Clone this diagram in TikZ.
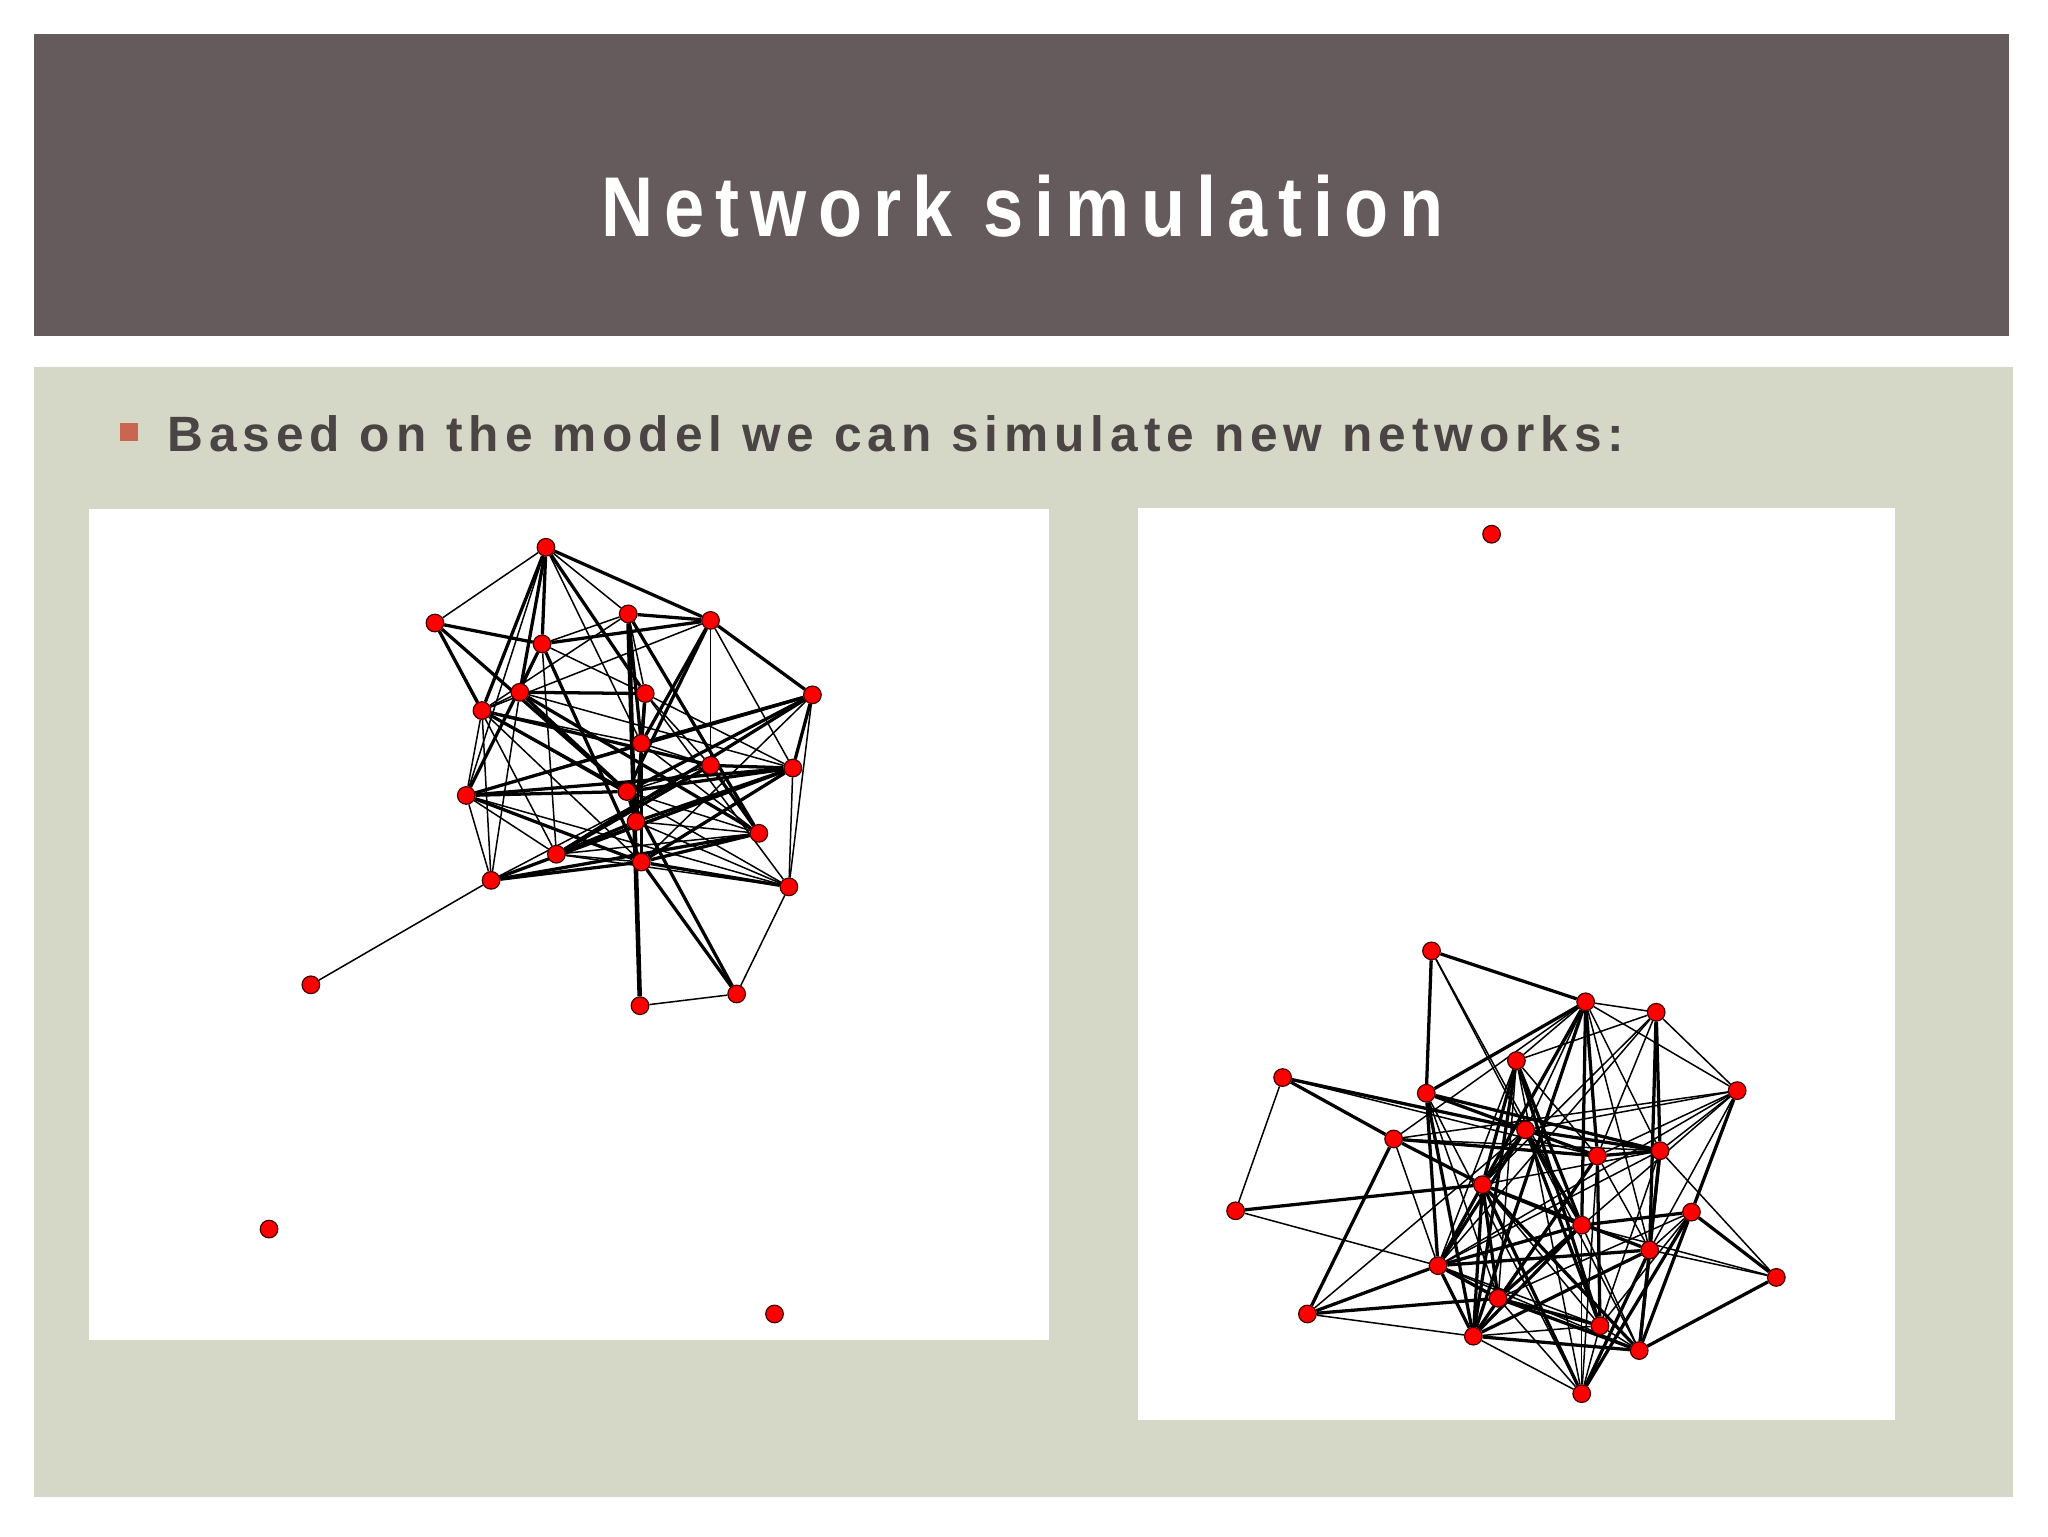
\documentclass[tikz,border=0pt]{standalone}
\usepackage{fontspec}
\setmainfont{Liberation Sans}
\newfontfamily\titlefont[FakeStretch=0.85,LetterSpace=13]{Liberation Sans}
\newfontfamily\bulletfont[FakeStretch=1.0,LetterSpace=12]{Liberation Sans}
\definecolor{hdr}{RGB}{101,90,92}
\definecolor{bodybg}{RGB}{214,216,199}
\definecolor{txt}{RGB}{74,69,68}
\definecolor{bul}{RGB}{200,102,80}
\pgfdeclarelayer{back}
\pgfdeclarelayer{edges}
\pgfsetlayers{back,edges,main}
\tikzset{
  vtx/.style={circle,fill=red,draw=black!75!red,line width=0.9pt,minimum size=13.5pt,inner sep=0pt},
  th/.style={line width=1.15pt,black},
  tk/.style={line width=2.5pt,black},
}
\begin{document}
\begin{tikzpicture}[x=1pt,y=-1pt]
\useasboundingbox (0,0) rectangle (1568,1176);
\begin{pgfonlayer}{back}
\fill[white] (0,0) rectangle (1568,1176);
\fill[hdr] (26,26) rectangle (1538,257);
\fill[bodybg] (26,281) rectangle (1541,1146);
\fill[white] (68,390) rectangle (803,1026);
\fill[white] (871,389) rectangle (1451,1087);
\fill[bul] (92,324) rectangle (106,338);
\end{pgfonlayer}
\node[anchor=base,text=white,font=\titlefont\bfseries\fontsize{65}{70}\selectfont,inner sep=0] (title) at (783,181) {Network simulation};
\node[anchor=base west,text=txt,font=\bulletfont\bfseries\fontsize{38}{44}\selectfont,inner sep=0] (bullet) at (128,346) {Based on the model we can simulate new networks:};
% left network nodes
\foreach \n/\x/\y in {A/418/419,B/333/477,C/481/470,D/544/475,E/415/493,F/398/530,G/494/531,H/369/544,I/622/532,J/491/569,K/544/586,L/607/588,M/357/609,N/480/606,O/487/629,P/581/638,Q/426/654,R/491/660,S/376/674,T/604/679,U/490/770,V/564/761,W/238/754,X/206/941,Y/593/1006}
  \node[vtx] (L\n) at (\x,\y) {};
% right network nodes
\foreach \n/\x/\y in {a/1096/728,b/1214/767,c/1268/775,d/1161/812,e/982/825,f/1092/837,g/1330/835,h/1168/865,i/1067/872,j/1223/885,k/1271/881,l/1135/907,m/946/927,n/1211/938,o/1295/928,p/1263/957,q/1101/969,r/1360/978,s/1147/994,t/1001/1006,u/1225/1015,v/1128/1023,w/1255/1034,x/1211/1067,z/1142/409}
  \node[vtx] (R\n) at (\x,\y) {};
\begin{pgfonlayer}{edges}
% left thin
\foreach \u/\v in {A/B,A/C,A/J,A/M,B/Q,C/E,C/H,C/G,D/K,D/L,D/H,E/F,E/G,E/Q,F/H,F/L,F/S,G/K,G/L,G/T,H/J,H/M,H/S,H/R,H/T,I/R,I/T,J/K,J/P,J/M,K/S,K/N,L/T,L/Q,M/T,M/S,M/Q,N/P,O/P,O/T,P/Q,Q/R,Q/T,S/W,T/V,U/V}
  \draw[th] (L\u) -- (L\v);
% left thick
\foreach \u/\v in {A/D,A/H,A/F,A/E,A/G,B/E,B/H,B/N,C/D,C/J,C/P,D/E,D/I,D/J,D/N,E/M,E/R,F/G,F/P,F/N,G/J,G/O,H/N,H/K,I/J,I/N,I/L,I/Q,I/M,J/R,K/P,K/L,K/Q,L/M,L/N,L/O,L/R,L/S,M/N,M/R,N/V,N/O,O/Q,P/R,P/S,R/V,R/T,R/S}
  \draw[tk] (L\u) -- (L\v);
\draw[line width=3.5pt] (LC) -- (LU);
% right thin
\foreach \u/\v in {a/h,a/n,b/c,b/d,b/h,b/p,b/k,b/g,b/i,c/d,c/j,c/l,c/g,c/q,d/j,d/s,d/x,d/q,e/m,e/j,f/s,f/j,f/x,g/i,g/h,g/j,g/k,g/p,g/q,g/s,h/w,h/t,i/k,i/q,j/p,j/s,j/x,k/l,k/r,k/u,k/q,l/u,m/q,n/p,n/w,n/x,o/p,o/s,o/u,p/r,q/u,q/w,r/n,s/x,t/v,u/w,u/v,u/x,v/x}
  \draw[th] (R\u) -- (R\v);
% right thick
\foreach \u/\v in {a/b,a/f,b/f,b/l,b/j,b/n,b/v,c/k,c/p,d/l,d/n,d/v,d/u,e/i,e/h,f/v,f/q,f/h,f/k,g/o,h/j,h/k,h/n,h/u,h/q,h/l,i/l,i/t,i/j,j/k,j/u,j/v,k/p,k/w,l/n,l/p,l/s,l/v,l/w,l/x,l/q,l/m,n/q,n/s,n/v,n/o,o/r,o/w,o/x,p/w,p/q,p/x,p/v,q/t,q/s,q/v,r/w,s/u,s/t,s/w,v/w}
  \draw[tk] (R\u) -- (R\v);
\end{pgfonlayer}
\end{tikzpicture}
\end{document}
